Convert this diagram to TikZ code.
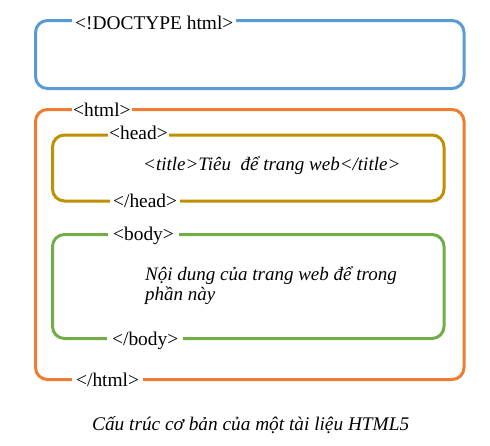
\documentclass[tikz,border=0pt]{standalone}
\usepackage{fontspec}
\setmainfont{Liberation Serif}
\definecolor{cblue}{HTML}{5B9BD5}
\definecolor{corange}{HTML}{ED7D31}
\definecolor{cgold}{HTML}{BF9000}
\definecolor{cgreen}{HTML}{70AD47}
\tikzset{
  tagbox/.style={draw=#1, line width=3pt, rounded corners=12pt},
  taglabel/.style={fill=white, inner xsep=3pt, inner ysep=2pt, anchor=base west, font=\fontsize{19.4}{22}\selectfont},
  bodytext/.style={anchor=base west, inner sep=0pt, font=\fontsize{19}{20}\selectfont\itshape, align=left},
}
\begin{document}
\begin{tikzpicture}[x=1pt,y=-1pt]
\useasboundingbox (0,0) rectangle (490,445);
% boxes
\draw[tagbox=cblue] (35.5,20.5) rectangle (464,88.5);
\draw[tagbox=corange] (35.5,109.5) rectangle (464,379.5);
\draw[tagbox=cgold] (52.5,135) rectangle (444,201);
\draw[tagbox=cgreen] (52.5,234.5) rectangle (444,338.5);
% labels
\node[taglabel] (doctype) at (72,29) {<!DOCTYPE html>};
\node[taglabel,inner xsep=1.5pt] (html) at (71.5,116.7) {<html>};
\node[taglabel,inner xsep=1.5pt] (head) at (107.5,139.5) {<head>};
\node[bodytext] (title) at (143,170.7) {<title>Tiêu\ \ để trang web</title>};
\node[taglabel] (endhead) at (110,207) {</head>};
\node[taglabel,inner xsep=5pt] (body) at (108,240) {<body>};
\node[bodytext] (content) at (145,300) {Nội dung của trang web để trong\\phần này};
\node[taglabel,inner xsep=5pt] (endbody) at (107,345) {</body>};
\node[taglabel,inner xsep=4pt] (endhtml) at (72,386) {</html>};
\node[bodytext,font=\fontsize{19.3}{20}\selectfont\itshape] (caption) at (92,430.7) {Cấu trúc cơ bản của một tài liệu HTML5};
\end{tikzpicture}
\end{document}
